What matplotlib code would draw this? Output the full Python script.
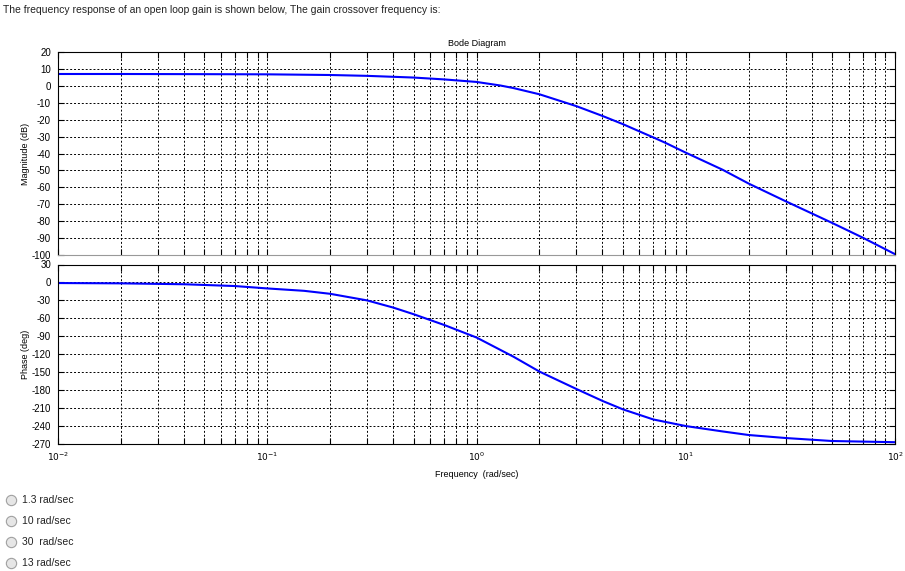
import matplotlib
matplotlib.use('Agg')
import numpy as np
import matplotlib.pyplot as plt
from matplotlib.ticker import LogLocator, FixedLocator

plt.rcParams['font.family'] = ['Liberation Sans', 'DejaVu Sans']
plt.rcParams['axes.unicode_minus'] = False

# values
mag_freq = [0.01, 0.02, 0.05, 0.1, 0.2, 0.3, 0.5, 0.7, 1.0, 1.3, 1.5, 2.0, 3.0,
            4.0, 5.0, 6.0, 7.0, 8.0, 10.0, 15.0, 20.0, 30.0, 50.0, 70.0, 100.0]
mag_db = [7.0, 7.0, 6.9, 6.8, 6.4, 5.9, 4.9, 3.8, 2.3, 0.2, -1.3, -5.0, -12.0,
          -17.8, -22.6, -26.9, -30.5, -33.7, -39.5, -49.6, -57.8, -68.2, -81.0, -89.7, -99.5]

ph_freq = [0.01, 0.02, 0.04, 0.07, 0.1, 0.15, 0.2, 0.3, 0.4, 0.5, 0.7, 1.0, 1.5, 2.0,
           3.0, 4.0, 5.0, 7.0, 10.0, 15.0, 20.0, 30.0, 50.0, 100.0]
ph_deg = [-1, -1.5, -3, -6, -10, -14, -19, -30, -42, -53, -71, -92, -124, -149,
          -178, -198, -212, -229, -240, -249, -255, -260, -265, -267]

mag_ticks = list(range(20, -101, -10))
ph_ticks = list(range(30, -271, -30))
x_ticks = [1e-2, 1e-1, 1e0, 1e1, 1e2]
x_labels = [r'$10^{-2}$', r'$10^{-1}$', r'$10^{0}$', r'$10^{1}$', r'$10^{2}$']

choices = ['1.3 rad/sec', '10 rad/sec', '30  rad/sec', '13 rad/sec']

W, H = 905, 571
fig = plt.figure(figsize=(W / 100, H / 100), dpi=100)

def px(x0, y0, x1, y1):
    return [x0 / W, 1 - y1 / H, (x1 - x0) / W, (y1 - y0) / H]

ax_m = fig.add_axes(px(58, 52, 895, 255))
ax_p = fig.add_axes(px(58, 264.5, 895, 444))

for ax in (ax_m, ax_p):
    ax.set_xscale('log')
    ax.set_xlim(1e-2, 1e2)
    ax.xaxis.set_major_locator(FixedLocator(x_ticks))
    ax.xaxis.set_minor_locator(LogLocator(base=10, subs=np.arange(2, 10)))
    ax.grid(True, which='both', axis='x', color='black', linestyle=(0, (2, 2)), linewidth=0.7)
    ax.grid(True, which='major', axis='y', color='black', linestyle=(0, (2, 2)), linewidth=0.7)
    ax.tick_params(which='both', direction='in', top=True, right=True, labelsize=7,
                   width=0.8, colors='black')
    ax.tick_params(which='major', length=4)
    ax.tick_params(which='minor', length=4)
    ax.tick_params(axis='x', pad=5)
    ax.tick_params(axis='y', pad=5)
    for s in ax.spines.values():
        s.set_linewidth(0.8)
    ax.yaxis.set_label_coords(-0.033, 0.5)

ax_m.spines['bottom'].set_color('#999999')
ax_m.plot(mag_freq, mag_db, color='#0000ff', linewidth=1.5)
ax_m.set_ylim(-100, 20)
ax_m.set_yticks(mag_ticks)
ax_m.set_xticklabels([])
ax_m.set_ylabel('Magnitude (dB)', fontsize=6.5)
ax_m.set_title('Bode Diagram', fontsize=6.5, pad=4)

ax_p.plot(ph_freq, ph_deg, color='#0000ff', linewidth=1.5)
ax_p.set_ylim(-270, 30)
ax_p.set_yticks(ph_ticks)
ax_p.set_xticks(x_ticks)
ax_p.set_xticklabels(x_labels, fontsize=6.5)
ax_p.set_ylabel('Phase (deg)', fontsize=6.5)
ax_p.set_xlabel('Frequency  (rad/sec)', fontsize=6.5, labelpad=5)

# page text and radio buttons in pixel coordinates
page = fig.add_axes([0, 0, 1, 1])
page.set_xlim(0, W)
page.set_ylim(H, 0)
page.axis('off')
page.text(3, 10, 'The frequency response of an open loop gain is shown below, The gain crossover frequency is:',
          fontsize=7.5, va='center', ha='left', color='#222222')
for i, c in enumerate(choices):
    y = 500 + i * 21
    page.scatter([11], [y], s=55, facecolor='#e6e6e6', edgecolor='#a0a0a0', linewidth=0.8)
    page.text(22, y, c, fontsize=7.5, va='center', ha='left', color='#222222')

fig.savefig('out.png', dpi=100)
